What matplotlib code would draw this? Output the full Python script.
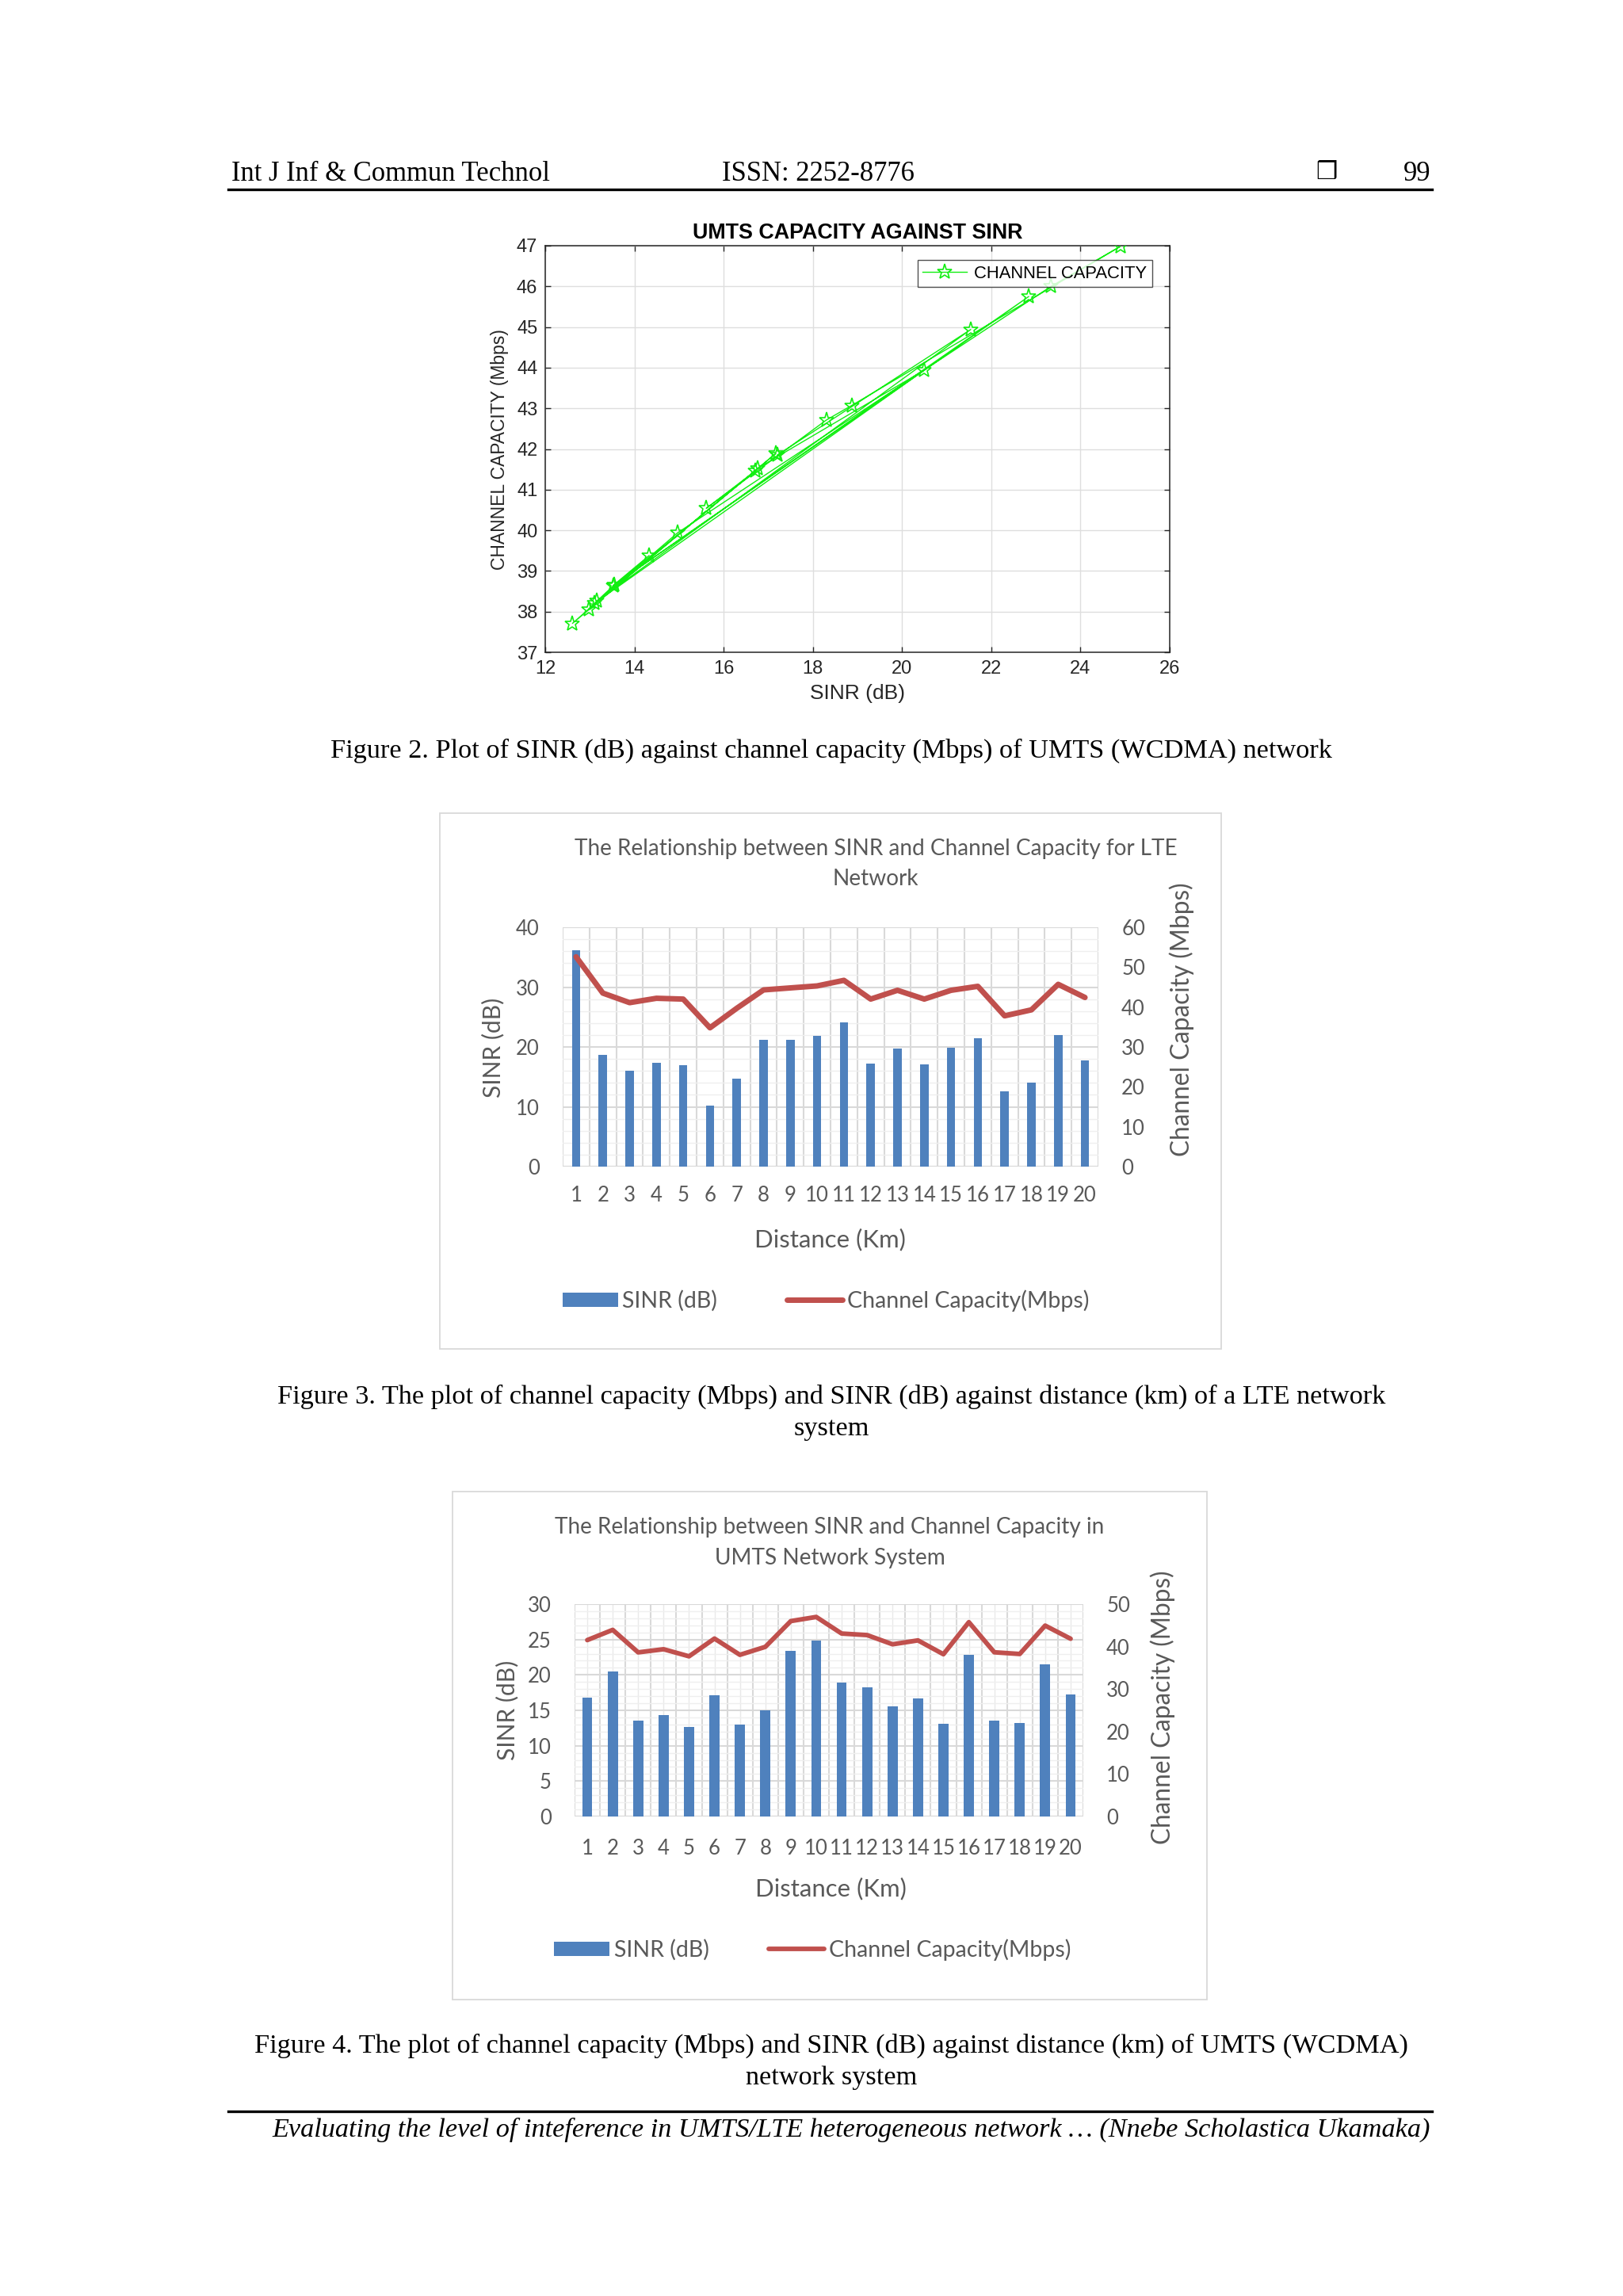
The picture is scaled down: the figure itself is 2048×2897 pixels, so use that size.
import numpy as np
import matplotlib
matplotlib.use('Agg')
import matplotlib.pyplot as plt
from matplotlib.patches import Rectangle, Patch
from matplotlib.lines import Line2D
from matplotlib.ticker import MultipleLocator

W, H = 2048, 2897

# ---------------- data ----------------
distance = list(range(1, 21))
umts_sinr = [16.77, 20.50, 13.52, 14.33, 12.61, 17.17, 12.97, 14.97, 23.34, 24.89,
             18.87, 18.30, 15.61, 16.71, 13.10, 22.84, 13.55, 13.16, 21.54, 17.20]
umts_cap = [41.53, 43.94, 38.64, 39.38, 37.71, 41.89, 38.06, 39.94, 46.00, 46.98,
            43.07, 42.71, 40.54, 41.46, 38.20, 45.75, 38.66, 38.26, 44.94, 41.85]
lte_sinr = [36.1, 18.7, 16.0, 17.4, 16.9, 10.2, 14.7, 21.2, 21.2, 21.8,
            24.1, 17.2, 19.8, 17.1, 19.9, 21.5, 12.6, 14.0, 22.0, 17.8]
lte_cap = [52.6, 43.5, 41.1, 42.2, 42.0, 34.8, 39.7, 44.3, 44.8, 45.3,
           46.7, 42.0, 44.2, 42.0, 44.2, 45.2, 37.8, 39.3, 45.7, 42.4]

fig = plt.figure(figsize=(W / 100, H / 100), dpi=100)
fig.patch.set_facecolor('white')


def rect(l, t, r, b):
    return [l / W, 1 - b / H, (r - l) / W, (b - t) / H]


def ftext(x, y, s, **kw):
    fig.text(x / W, 1 - y / H, s, **kw)


def hline(y, x0, x1, lw=2.2):
    fig.add_artist(Line2D([x0 / W, x1 / W], [1 - y / H, 1 - y / H], color='black',
                          lw=lw, transform=fig.transFigure))


SERIF = ['Liberation Serif', 'DejaVu Serif']
SERIF_SYM = ['Liberation Serif', 'DejaVu Sans']
CAP_FS = 24.7

# ---------------- page header ----------------
ftext(292, 220, 'Int J Inf & Commun Technol', family=SERIF, fontsize=24.9, va='center', ha='left')
ftext(911, 220, 'ISSN: 2252-8776', family=SERIF, fontsize=24.9, va='center', ha='left')
ftext(1674, 218, '\u2752', family=SERIF_SYM, fontsize=22, va='center', ha='center')
ftext(1805, 220, '99', family=SERIF, fontsize=24.9, va='center', ha='right')
hline(239, 288, 1807, lw=2.4)

# ---------------- Figure 2: MATLAB style ----------------
green = '#11ee11'
dark = '#262626'
SANS = ['Liberation Sans', 'DejaVu Sans']
ax1 = fig.add_axes(rect(688, 310, 1476, 823))
ax1.plot(umts_sinr, umts_cap, color=green, lw=1.0, marker='*', ms=14, mfc='none',
         mec=green, mew=1.2, label='CHANNEL CAPACITY', zorder=3)
ax1.set_xlim(12, 26)
ax1.set_ylim(37, 47)
ax1.set_xticks(np.arange(12, 27, 2))
ax1.set_yticks(np.arange(37, 48, 1))
ax1.grid(True, color='#dedede', lw=1.0)
ax1.set_axisbelow(True)
ax1.tick_params(direction='in', top=True, right=True, length=5, width=1.0,
                labelsize=17, colors=dark, pad=7)
for sp in ax1.spines.values():
    sp.set_color(dark)
    sp.set_linewidth(1.1)
for lab in ax1.get_xticklabels() + ax1.get_yticklabels():
    lab.set_family(SANS)
leg1 = ax1.legend(loc='upper right', bbox_to_anchor=(0.972, 0.965), borderaxespad=0,
                  frameon=True, fancybox=False, borderpad=0.3, handlelength=2.55,
                  handletextpad=0.4, prop={'family': SANS, 'size': 15.8})
leg1.get_frame().set_edgecolor(dark)
leg1.get_frame().set_linewidth(1.0)
ftext(1082, 294, 'UMTS CAPACITY AGAINST SINR', family=SANS, fontsize=19.4,
      fontweight='bold', ha='center', va='center', color='black')
ftext(1082, 875, 'SINR (dB)', family=SANS, fontsize=19, ha='center', va='center', color=dark)
ftext(631, 567, 'CHANNEL CAPACITY (Mbps)', family=SANS, fontsize=16.5, ha='center',
      va='center', rotation=90, color=dark)

ftext(1049, 947, 'Figure 2. Plot of SINR (dB) against channel capacity (Mbps) of UMTS (WCDMA) network',
      family=SERIF, fontsize=CAP_FS, ha='center', va='center')

# ---------------- Excel style charts ----------------
blue = '#4F81BD'
red = '#C0504D'
gtxt = '#595959'
XL = ['Lato', 'DejaVu Sans']


def excel_chart(box, plot, title_lines, title_x, title_y, sinr, cap,
                lmax, lstep, lminor, rmax, rstep, bar_w, line_w, center_minor,
                ylab_l, ylab_r, xlab_y, xlab_x, leg_xy, xpad, colsp):
    l, t, r, b = box
    fig.add_artist(Rectangle((l / W, 1 - b / H), (r - l) / W, (b - t) / H,
                             transform=fig.transFigure, fill=False,
                             edgecolor='#d9d9d9', lw=1.3))
    ax = fig.add_axes(rect(*plot))
    ax.bar(distance, sinr, width=bar_w, color=blue, zorder=2)
    ax.set_xlim(0.5, len(distance) + 0.5)
    ax.set_ylim(0, lmax)
    ax.set_yticks(np.arange(0, lmax + 0.1, lstep))
    ax.yaxis.set_minor_locator(MultipleLocator(lminor))
    ax.set_xticks(distance)
    ax.set_xticks(np.arange(0.5, len(distance) + 0.6, 1.0), minor=True)
    ax.grid(axis='y', which='major', color='#d9d9d9', lw=1.5)
    ax.grid(axis='y', which='minor', color='#efefef', lw=1.0)
    ax.grid(axis='x', which='minor', color='#d9d9d9', lw=1.5)
    if center_minor:
        ax.grid(axis='x', which='major', color='#e9e9e9', lw=1.0)
    else:
        ax.grid(axis='x', which='major', visible=False)
    ax.set_axisbelow(True)
    for sp in ax.spines.values():
        sp.set_visible(False)
    ax.tick_params(axis='both', which='both', length=0)
    ax.tick_params(axis='y', labelsize=18.5, labelcolor=gtxt, pad=21)
    ax.tick_params(axis='x', labelsize=18.5, labelcolor=gtxt, pad=xpad)
    for lab in ax.get_xticklabels() + ax.get_yticklabels():
        lab.set_family(XL)
    axr = ax.twinx()
    axr.plot(distance, cap, color=red, lw=line_w, solid_joinstyle='round',
             solid_capstyle='round', zorder=3)
    axr.set_ylim(0, rmax)
    axr.set_yticks(np.arange(0, rmax + 0.1, rstep))
    for sp in axr.spines.values():
        sp.set_visible(False)
    axr.tick_params(axis='y', length=0, labelsize=18.5, labelcolor=gtxt, pad=21)
    for lab in axr.get_yticklabels():
        lab.set_family(XL)
    ax.axhline(0, color='#d9d9d9', lw=1.6, zorder=1)
    for i, line in enumerate(title_lines):
        ftext(title_x, title_y[i], line, family=XL, fontsize=20.2, color=gtxt,
              ha='center', va='center')
    ftext(ylab_l[0], ylab_l[1], 'SINR (dB)', family=XL, fontsize=21.5, color=gtxt,
          ha='center', va='center', rotation=90)
    ftext(ylab_r[0], ylab_r[1], 'Channel Capacity (Mbps)', family=XL, fontsize=22.7,
          color=gtxt, ha='center', va='center', rotation=90)
    ftext(xlab_x, xlab_y, 'Distance (Km)', family=XL, fontsize=22.4, color=gtxt,
          ha='center', va='center')
    handles = [Patch(facecolor=blue, edgecolor='none'),
               Line2D([], [], color=red, lw=line_w, solid_capstyle='round')]
    fig.legend(handles, ['SINR (dB)', 'Channel Capacity(Mbps)'], loc='center',
               bbox_to_anchor=(leg_xy[0] / W, 1 - leg_xy[1] / H), ncol=2, frameon=False,
               prop={'family': XL, 'size': 20.5}, labelcolor=gtxt, handlelength=2.45,
               handleheight=0.6, handletextpad=0.2, columnspacing=colsp,
               borderaxespad=0, borderpad=0)
    return ax, axr


excel_chart((555, 1026, 1541, 1702), (710, 1170, 1386, 1472),
            ['The Relationship between SINR and Channel Capacity for LTE', 'Network'],
            1105, [1071, 1109], lte_sinr, lte_cap,
            40, 10, 2, 60, 10, 0.31, 5.0, False,
            (622, 1322), (1491, 1286), 1564, 1047, (1042, 1641), 17, 3.1)

ftext(1049, 1762, 'Figure 3. The plot of channel capacity (Mbps) and SINR (dB) against distance (km) of a LTE network',
      family=SERIF, fontsize=CAP_FS, ha='center', va='center')
ftext(1049, 1803, 'system', family=SERIF, fontsize=CAP_FS, ha='center', va='center')

excel_chart((571, 1882, 1523, 2523), (725, 2024, 1367, 2292),
            ['The Relationship between SINR and Channel Capacity in', 'UMTS Network System'],
            1047, [1927, 1966], umts_sinr, umts_cap,
            30, 5, 1, 50, 10, 0.40, 4.2, True,
            (640, 2158), (1467, 2154), 2383, 1048, (1025, 2460), 20.5, 2.66)

ftext(1049, 2581, 'Figure 4. The plot of channel capacity (Mbps) and SINR (dB) against distance (km) of UMTS (WCDMA)',
      family=SERIF, fontsize=CAP_FS, ha='center', va='center')
ftext(1049, 2622, 'network system', family=SERIF, fontsize=CAP_FS, ha='center', va='center')

# ---------------- footer ----------------
hline(2664, 288, 1807, lw=2.4)
ftext(1805, 2687, 'Evaluating the level of inteference in UMTS/LTE heterogeneous network \u2026 (Nnebe Scholastica Ukamaka)',
      family=SERIF, fontsize=CAP_FS, style='italic', ha='right', va='center')

fig.savefig('out.png', dpi=100, facecolor='white')
